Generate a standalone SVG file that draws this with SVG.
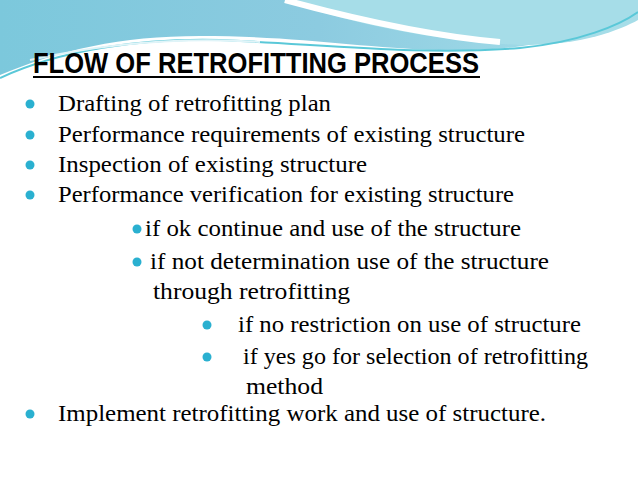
<svg xmlns="http://www.w3.org/2000/svg" width="638" height="478" viewBox="0 0 638 478">
<defs>
<linearGradient id="g1" x1="0" y1="0" x2="1" y2="0"><stop offset="0" stop-color="#7cc8dc"/><stop offset="0.5" stop-color="#8ccbe0"/><stop offset="1" stop-color="#a8e0ea"/></linearGradient>
<style>.t{font-family:"Liberation Serif",serif;font-size:23px;fill:#000}.b{fill:#2ab0d0}</style>
</defs>
<rect width="638" height="478" fill="#fff"/>
<path d="M0 0H638V15C560 45 500 52 440 50C360 48 300 36 200 36C120 36 60 50 0 75Z" fill="url(#g1)"/>
<path d="M285 0C340 20 420 40 520 45C580 46 620 30 638 20V0Z" fill="#a6dde8"/>
<path d="M285 0C340 15 420 35 500 42" stroke="#fff" stroke-width="6" fill="none"/>
<path d="M0 78C60 50 140 38 220 40C320 44 420 56 520 48C580 42 620 25 638 12" stroke="#5ac8d8" stroke-width="2" fill="none"/>
<path d="M30 60C120 40 200 38 260 42" stroke="#e0f4f8" stroke-width="2" fill="none"/>
<text x="33" y="73" font-family="Liberation Sans,sans-serif" font-weight="bold" font-size="29" textLength="446" lengthAdjust="spacingAndGlyphs">FLOW OF RETROFITTING PROCESS</text>
<rect x="33" y="76" width="447" height="2" fill="#000"/>
<g>
<circle class="b" cx="30" cy="104" r="4.5"/><text class="t" x="58" y="111" textLength="273" lengthAdjust="spacingAndGlyphs">Drafting of retrofitting plan</text>
<circle class="b" cx="30" cy="135" r="4.5"/><text class="t" x="58" y="142" textLength="467" lengthAdjust="spacingAndGlyphs">Performance requirements of existing structure</text>
<circle class="b" cx="30" cy="165" r="4.5"/><text class="t" x="58" y="172" textLength="309" lengthAdjust="spacingAndGlyphs">Inspection of existing structure</text>
<circle class="b" cx="30" cy="195" r="4.5"/><text class="t" x="58" y="202" textLength="456" lengthAdjust="spacingAndGlyphs">Performance verification for existing structure</text>
<circle class="b" cx="137" cy="229" r="4.5"/><text class="t" x="145" y="236" textLength="376" lengthAdjust="spacingAndGlyphs">if ok continue and use of the structure</text>
<circle class="b" cx="137" cy="262" r="4.5"/><text class="t" x="150" y="269" textLength="399" lengthAdjust="spacingAndGlyphs">if not determination use of the structure</text>
<text class="t" x="153" y="299" textLength="197" lengthAdjust="spacingAndGlyphs">through retrofitting</text>
<circle class="b" cx="207" cy="325" r="4.5"/><text class="t" x="238" y="332" textLength="343" lengthAdjust="spacingAndGlyphs">if no restriction on use of structure</text>
<circle class="b" cx="207" cy="357" r="4.5"/><text class="t" x="243" y="364" textLength="345" lengthAdjust="spacingAndGlyphs">if yes go for selection of retrofitting</text>
<text class="t" x="246" y="394" textLength="77" lengthAdjust="spacingAndGlyphs">method</text>
<circle class="b" cx="30" cy="414" r="4.5"/><text class="t" x="58" y="421" textLength="488" lengthAdjust="spacingAndGlyphs">Implement retrofitting work and use of structure.</text>
</g>
</svg>
